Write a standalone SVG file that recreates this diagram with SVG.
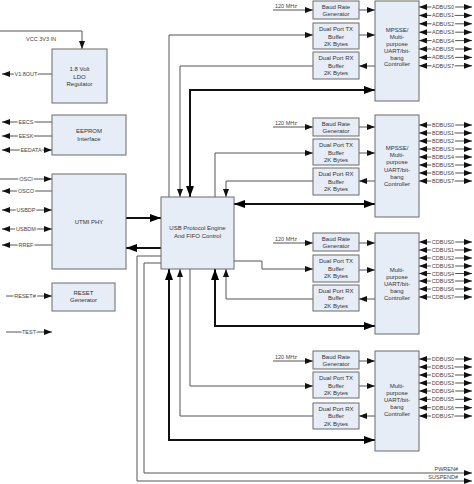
<svg xmlns="http://www.w3.org/2000/svg" width="474" height="484" viewBox="0 0 474 484">
<style>
.box{fill:#e6edf6;stroke:#6b6b6b;stroke-width:1}
.bt{font-family:"Liberation Sans",Arial,sans-serif;font-size:6px;fill:#333;text-anchor:middle}
.lb{font-family:"Liberation Sans",Arial,sans-serif;font-size:5.5px;fill:#444;text-anchor:middle;stroke:#fff;stroke-width:2.5px;paint-order:stroke;stroke-linejoin:round}
.ln{fill:none;stroke:#555;stroke-width:1}
.tk{fill:none;stroke:#111;stroke-width:2}
.e{marker-end:url(#ah)}
.b{marker-start:url(#ah);marker-end:url(#ah)}
.te{marker-end:url(#ahT)}
.tb{marker-start:url(#ahT);marker-end:url(#ahT)}
</style>
<defs>
<marker id="ah" viewBox="0 0 8 6" refX="8" refY="3" markerWidth="8" markerHeight="6" markerUnits="userSpaceOnUse" orient="auto-start-reverse"><path d="M0,0L8,3L0,6z" fill="#111"/></marker>
<marker id="ahT" viewBox="0 0 11 8" refX="11" refY="4" markerWidth="11" markerHeight="8" markerUnits="userSpaceOnUse" orient="auto-start-reverse"><path d="M0,0L11,4L0,8z" fill="#000"/></marker>
</defs>
<rect width="474" height="484" fill="#fff"/>

<g id="connectors">
<!-- left signals -->
<polyline class="ln e" points="0,31 82,31 82,49"/>
<line class="ln e" x1="52" y1="74" x2="2" y2="74"/>
<line class="ln e" x1="52" y1="122" x2="2" y2="122"/>
<line class="ln e" x1="52" y1="136" x2="2" y2="136"/>
<line class="ln b" x1="2" y1="150" x2="52" y2="150"/>
<line class="ln e" x1="0" y1="179" x2="52" y2="179"/>
<line class="ln e" x1="52" y1="191" x2="2" y2="191"/>
<line class="ln b" x1="2" y1="210" x2="52" y2="210"/>
<line class="ln b" x1="2" y1="229" x2="52" y2="229"/>
<line class="ln e" x1="52" y1="245" x2="2" y2="245"/>
<line class="ln e" x1="6" y1="296" x2="52" y2="296"/>
<line class="ln e" x1="6" y1="332" x2="52" y2="332"/>
<!-- UTMI <-> engine -->
<line class="tk te" x1="126" y1="218" x2="161" y2="218"/>
<line class="tk te" x1="161" y1="248" x2="126" y2="248"/>
<!-- channel A -->
<polyline class="ln e" points="169,197 169,35 313,35"/>
<polyline class="ln e" points="313,66 180,66 180,197"/>
<polyline class="tk tb" points="190,197 190,90 375,90"/>
<!-- channel B -->
<polyline class="ln e" points="215,197 215,153 313,153"/>
<polyline class="ln e" points="313,181 226,181 226,197"/>
<line class="tk tb" x1="234" y1="204" x2="375" y2="204"/>
<!-- channel C -->
<polyline class="ln e" points="234,261 262,261 262,269 313,269"/>
<polyline class="ln e" points="313,299 226,299 226,269"/>
<polyline class="tk tb" points="215,269 215,326 375,326"/>
<!-- channel D -->
<polyline class="ln e" points="190,269 190,386 313,386"/>
<polyline class="ln e" points="313,416 180,416 180,269"/>
<polyline class="tk tb" points="169,269 169,440 375,440"/>
<!-- PWREN / SUSPEND -->
<polyline class="ln e" points="161,263 144,263 144,473 472,473"/>
<polyline class="ln e" points="161,256 137,256 137,481 472,481"/>
<!-- 120 MHz -->
<line class="ln e" x1="273" y1="10" x2="313" y2="10"/>
<line class="ln e" x1="273" y1="127" x2="313" y2="127"/>
<line class="ln e" x1="273" y1="243" x2="313" y2="243"/>
<line class="ln e" x1="273" y1="361" x2="313" y2="361"/>
<!-- internal channel arrows -->
<line class="ln e" x1="359" y1="10" x2="375" y2="10"/>
<line class="ln e" x1="359" y1="35" x2="375" y2="35"/>
<line class="ln e" x1="375" y1="66" x2="359" y2="66"/>
<line class="ln e" x1="359" y1="127" x2="375" y2="127"/>
<line class="ln e" x1="359" y1="153" x2="375" y2="153"/>
<line class="ln e" x1="375" y1="181" x2="359" y2="181"/>
<line class="ln e" x1="359" y1="243" x2="375" y2="243"/>
<line class="ln e" x1="359" y1="270" x2="375" y2="270"/>
<line class="ln e" x1="375" y1="299" x2="359" y2="299"/>
<line class="ln e" x1="359" y1="361" x2="375" y2="361"/>
<line class="ln e" x1="359" y1="386" x2="375" y2="386"/>
<line class="ln e" x1="375" y1="416" x2="359" y2="416"/>
<!-- buses -->
<g class="ln b">
<line x1="419" y1="7" x2="472" y2="7"/><line x1="419" y1="15.4" x2="472" y2="15.4"/><line x1="419" y1="23.8" x2="472" y2="23.8"/><line x1="419" y1="32.2" x2="472" y2="32.2"/><line x1="419" y1="40.6" x2="472" y2="40.6"/><line x1="419" y1="49" x2="472" y2="49"/><line x1="419" y1="57.4" x2="472" y2="57.4"/><line x1="419" y1="65.8" x2="472" y2="65.8"/>
<line x1="419" y1="125" x2="472" y2="125"/><line x1="419" y1="133" x2="472" y2="133"/><line x1="419" y1="141" x2="472" y2="141"/><line x1="419" y1="149" x2="472" y2="149"/><line x1="419" y1="157" x2="472" y2="157"/><line x1="419" y1="165" x2="472" y2="165"/><line x1="419" y1="173" x2="472" y2="173"/><line x1="419" y1="181" x2="472" y2="181"/>
<line x1="419" y1="242" x2="472" y2="242"/><line x1="419" y1="250" x2="472" y2="250"/><line x1="419" y1="258" x2="472" y2="258"/><line x1="419" y1="266" x2="472" y2="266"/><line x1="419" y1="273.5" x2="472" y2="273.5"/><line x1="419" y1="281" x2="472" y2="281"/><line x1="419" y1="289" x2="472" y2="289"/><line x1="419" y1="297" x2="472" y2="297"/>
<line x1="419" y1="359" x2="472" y2="359"/><line x1="419" y1="367" x2="472" y2="367"/><line x1="419" y1="375" x2="472" y2="375"/><line x1="419" y1="383" x2="472" y2="383"/><line x1="419" y1="391" x2="472" y2="391"/><line x1="419" y1="399.3" x2="472" y2="399.3"/><line x1="419" y1="407.7" x2="472" y2="407.7"/><line x1="419" y1="416" x2="472" y2="416"/>
</g>
<!-- connector labels -->
<text class="lb" x="41" y="41" style="stroke:none">VCC 3V3 IN</text>
<text class="lb" x="26" y="76">V1.8OUT</text>
<text class="lb" x="26" y="124">EECS</text>
<text class="lb" x="26" y="138">EESK</text>
<text class="lb" x="31" y="152">EEDATA</text>
<text class="lb" x="26" y="181">OSCI</text>
<text class="lb" x="26" y="193">OSCO</text>
<text class="lb" x="26" y="212">USBDP</text>
<text class="lb" x="26" y="231">USBDM</text>
<text class="lb" x="26" y="247">RREF</text>
<text class="lb" x="25" y="298">RESET#</text>
<text class="lb" x="29" y="334">TEST</text>
<text class="lb" x="286" y="8" style="stroke:none">120 MHz</text>
<text class="lb" x="286" y="125" style="stroke:none">120 MHz</text>
<text class="lb" x="286" y="241" style="stroke:none">120 MHz</text>
<text class="lb" x="286" y="359" style="stroke:none">120 MHz</text>
<text class="lb" x="458" y="471" style="text-anchor:end;stroke:none">PWREN#</text>
<text class="lb" x="458" y="479" style="text-anchor:end;stroke:none">SUSPEND#</text>
<g>
<text class="lb" x="443" y="9">ADBUS0</text><text class="lb" x="443" y="17.4">ADBUS1</text><text class="lb" x="443" y="25.8">ADBUS2</text><text class="lb" x="443" y="34.2">ADBUS3</text><text class="lb" x="443" y="42.6">ADBUS4</text><text class="lb" x="443" y="51">ADBUS5</text><text class="lb" x="443" y="59.4">ADBUS6</text><text class="lb" x="443" y="67.8">ADBUS7</text>
<text class="lb" x="443" y="127">BDBUS0</text><text class="lb" x="443" y="135">BDBUS1</text><text class="lb" x="443" y="143">BDBUS2</text><text class="lb" x="443" y="151">BDBUS3</text><text class="lb" x="443" y="159">BDBUS4</text><text class="lb" x="443" y="167">BDBUS5</text><text class="lb" x="443" y="175">BDBUS6</text><text class="lb" x="443" y="183">BDBUS7</text>
<text class="lb" x="443" y="244">CDBUS0</text><text class="lb" x="443" y="252">CDBUS1</text><text class="lb" x="443" y="260">CDBUS2</text><text class="lb" x="443" y="268">CDBUS3</text><text class="lb" x="443" y="275.5">CDBUS4</text><text class="lb" x="443" y="283">CDBUS5</text><text class="lb" x="443" y="291">CDBUS6</text><text class="lb" x="443" y="299">CDBUS7</text>
<text class="lb" x="443" y="361">DDBUS0</text><text class="lb" x="443" y="369">DDBUS1</text><text class="lb" x="443" y="377">DDBUS2</text><text class="lb" x="443" y="385">DDBUS3</text><text class="lb" x="443" y="393">DDBUS4</text><text class="lb" x="443" y="401.3">DDBUS5</text><text class="lb" x="443" y="409.7">DDBUS6</text><text class="lb" x="443" y="418">DDBUS7</text>
</g>
</g>

<g id="ldo"><rect class="box" x="52" y="49" width="55" height="54"/><text class="bt" x="79.5" y="71">1.8 Volt</text><text class="bt" x="79.5" y="78.5">LDO</text><text class="bt" x="79.5" y="86">Regulator</text></g>
<g id="eeprom"><rect class="box" x="52" y="115" width="74" height="40"/><text class="bt" x="89" y="133">EEPROM</text><text class="bt" x="89" y="140.5">Interface</text></g>
<g id="utmi"><rect class="box" x="52" y="174" width="74" height="95"/><text class="bt" x="89" y="224">UTMI PHY</text></g>
<g id="reset"><rect class="box" x="52" y="283" width="63" height="28"/><text class="bt" x="83.5" y="295">RESET</text><text class="bt" x="83.5" y="302">Generator</text></g>
<g id="engine"><rect class="box" x="161" y="197" width="73" height="72"/><text class="bt" x="197.5" y="230">USB Protocol Engine</text><text class="bt" x="197.5" y="238">And FIFO Control</text></g>

<g id="baudA"><rect class="box" x="313" y="1" width="46" height="18"/><text class="bt" x="336" y="8.5">Baud Rate</text><text class="bt" x="336" y="15.5">Generator</text></g>
<g id="txA"><rect class="box" x="313" y="23" width="46" height="26"/><text class="bt" x="336" y="31">Dual Port TX</text><text class="bt" x="336" y="38.5">Buffer</text><text class="bt" x="336" y="46">2K Bytes</text></g>
<g id="rxA"><rect class="box" x="313" y="52" width="46" height="27"/><text class="bt" x="336" y="60">Dual Port RX</text><text class="bt" x="336" y="67.5">Buffer</text><text class="bt" x="336" y="75">2K Bytes</text></g>
<g id="ctrlA"><rect class="box" x="375" y="1" width="44" height="100"/><text class="bt" x="397" y="32">MPSSE/</text><text class="bt" x="397" y="38.5">Multi-</text><text class="bt" x="397" y="45.5">purpose</text><text class="bt" x="397" y="52.5">UART/bit-</text><text class="bt" x="397" y="59.5">bang</text><text class="bt" x="397" y="66">Controller</text></g>

<g id="baudB"><rect class="box" x="313" y="118" width="46" height="18"/><text class="bt" x="336" y="125.5">Baud Rate</text><text class="bt" x="336" y="132.5">Generator</text></g>
<g id="txB"><rect class="box" x="313" y="139" width="46" height="26"/><text class="bt" x="336" y="147">Dual Port TX</text><text class="bt" x="336" y="154.5">Buffer</text><text class="bt" x="336" y="162">2K Bytes</text></g>
<g id="rxB"><rect class="box" x="313" y="168" width="46" height="27"/><text class="bt" x="336" y="176">Dual Port RX</text><text class="bt" x="336" y="183.5">Buffer</text><text class="bt" x="336" y="191">2K Bytes</text></g>
<g id="ctrlB"><rect class="box" x="375" y="115" width="44" height="102"/><text class="bt" x="397" y="150">MPSSE/</text><text class="bt" x="397" y="157">Multi-</text><text class="bt" x="397" y="164">purpose</text><text class="bt" x="397" y="171.5">UART/bit-</text><text class="bt" x="397" y="178.5">bang</text><text class="bt" x="397" y="185.5">Controller</text></g>

<g id="baudC"><rect class="box" x="313" y="233" width="46" height="18"/><text class="bt" x="336" y="240.5">Baud Rate</text><text class="bt" x="336" y="247.5">Generator</text></g>
<g id="txC"><rect class="box" x="313" y="255" width="46" height="27"/><text class="bt" x="336" y="263">Dual Port TX</text><text class="bt" x="336" y="270.5">Buffer</text><text class="bt" x="336" y="278">2K Bytes</text></g>
<g id="rxC"><rect class="box" x="313" y="285" width="46" height="26"/><text class="bt" x="336" y="292.5">Dual Port RX</text><text class="bt" x="336" y="300">Buffer</text><text class="bt" x="336" y="307.5">2K Bytes</text></g>
<g id="ctrlC"><rect class="box" x="375" y="233" width="44" height="101"/><text class="bt" x="397" y="272">Multi-</text><text class="bt" x="397" y="279">purpose</text><text class="bt" x="397" y="286">UART/bit-</text><text class="bt" x="397" y="293">bang</text><text class="bt" x="397" y="300">Controller</text></g>

<g id="baudD"><rect class="box" x="313" y="351" width="46" height="18"/><text class="bt" x="336" y="358.5">Baud Rate</text><text class="bt" x="336" y="365.5">Generator</text></g>
<g id="txD"><rect class="box" x="313" y="372" width="46" height="26"/><text class="bt" x="336" y="380">Dual Port TX</text><text class="bt" x="336" y="387.5">Buffer</text><text class="bt" x="336" y="395">2K Bytes</text></g>
<g id="rxD"><rect class="box" x="313" y="403" width="46" height="26"/><text class="bt" x="336" y="410.5">Dual Port RX</text><text class="bt" x="336" y="418">Buffer</text><text class="bt" x="336" y="425.5">2K Bytes</text></g>
<g id="ctrlD"><rect class="box" x="375" y="351" width="44" height="100"/><text class="bt" x="397" y="388">Multi-</text><text class="bt" x="397" y="395">purpose</text><text class="bt" x="397" y="402">UART/bit-</text><text class="bt" x="397" y="409">bang</text><text class="bt" x="397" y="416">Controller</text></g>
</svg>
